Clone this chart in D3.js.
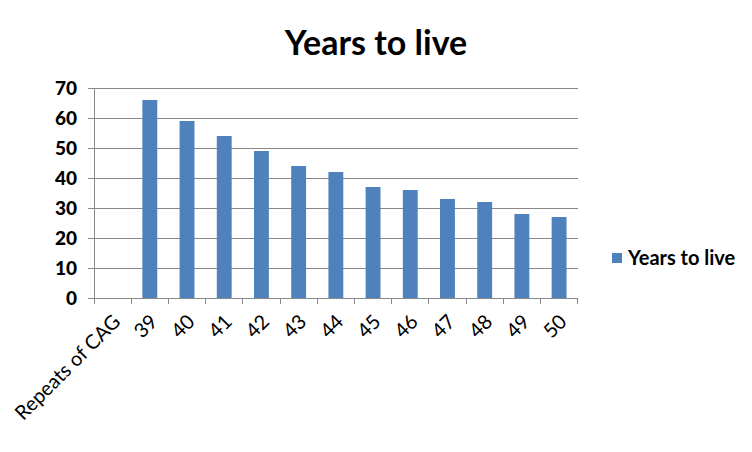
<!DOCTYPE html>
<html><head><meta charset="utf-8">
<script src="https://cdn.jsdelivr.net/npm/d3@7"></script>
<style>body{margin:0;background:#fff;} svg{display:block;}</style>
</head><body>
<script>
const categories = ["Repeats of CAG","39","40","41","42","43","44","45","46","47","48","49","50"];
const values = [null,66,59,54,49,44,42,37,36,33,32,28,27];
const seriesName = "Years to live";
const yTicks = [0,10,20,30,40,50,60,70];

(function(){
const W = 752, H = 452;
const font = "Lato, 'Open Sans', sans-serif";
const svg = d3.select("body").append("svg").attr("width", W).attr("height", H);
const pL = 94, pR = 577.7, pT = 88, pB = 298;
const x = d3.scaleBand().domain(categories).range([pL, pR]).paddingInner(0.6).paddingOuter(0.3);
const xb = d3.scaleBand().domain(categories).range([pL, pR]);
const y = d3.scaleLinear().domain([0,70]).range([pB, pT]);

svg.append("g").selectAll("line").data(yTicks).join("line")
  .attr("x1", pL - 6).attr("x2", pR).attr("y1", d => y(d)).attr("y2", d => y(d))
  .attr("stroke", "#888").attr("stroke-width", 1).attr("shape-rendering","crispEdges");
svg.append("line").attr("x1", pL).attr("x2", pL).attr("y1", pT).attr("y2", pB)
  .attr("stroke","#888").attr("shape-rendering","crispEdges");
const bounds = categories.map(c => xb(c)).concat([pR]);
svg.append("g").selectAll("line").data(bounds).join("line")
  .attr("x1", d => d).attr("x2", d => d).attr("y1", pB).attr("y2", pB + 6)
  .attr("stroke","#888").attr("shape-rendering","crispEdges");

svg.append("g").selectAll("rect").data(categories.map((c,i)=>({c, v: values[i]})).filter(d => d.v != null))
  .join("rect").attr("x", d => x(d.c)).attr("width", x.bandwidth())
  .attr("y", d => y(d.v)).attr("height", d => y(0) - y(d.v)).attr("fill", "#4F81BD");

svg.append("g").selectAll("text").data(yTicks).join("text")
  .attr("x", 77).attr("y", d => y(d)).attr("dy", "0.35em").attr("text-anchor","end")
  .attr("font-family", font).attr("font-weight","900").attr("font-size", 19).text(d => d);

svg.append("g").selectAll("text").data(categories).join("text")
  .attr("transform", d => `translate(${xb(d) + xb.bandwidth()/2 + 4},${pB + 20}) rotate(-45)`)
  .attr("text-anchor","end").attr("dy","0.35em")
  .attr("font-family", font).attr("font-size", 20).text(d => d);

svg.append("text").attr("x", 376).attr("y", 55).attr("text-anchor","middle")
  .attr("font-family", font).attr("font-weight","bold").attr("font-size", 34).text(seriesName);

svg.append("rect").attr("x", 612).attr("y", 253).attr("width", 10).attr("height", 10).attr("fill","#4F81BD");
svg.append("text").attr("x", 628).attr("y", 265).attr("font-family", font).attr("font-weight","bold")
  .attr("font-size", 20).text(seriesName);
})();
</script>
</body></html>
